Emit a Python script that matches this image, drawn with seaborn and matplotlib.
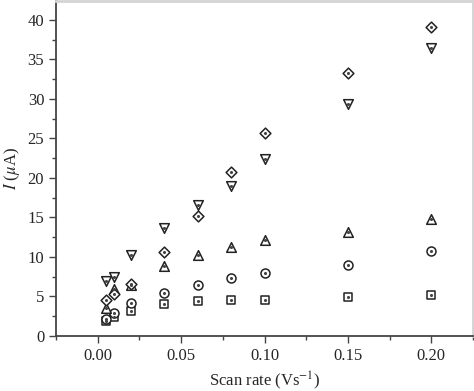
import numpy as np
import pandas as pd
import matplotlib
matplotlib.use("Agg")
import matplotlib.pyplot as plt
from matplotlib.ticker import MultipleLocator
import seaborn as sns

scan_rate = [0.005, 0.01, 0.02, 0.04, 0.06, 0.08, 0.10, 0.15, 0.20]

square = [1.9, 2.45, 3.2, 4.05, 4.47, 4.5, 4.6, 4.98, 5.15]
circle = [2.15, 2.95, 4.2, 5.4, 6.45, 7.34, 8.0, 9.0, 10.76]
triangle_up = [3.6, 5.9, 6.5, 8.86, 10.3, 11.3, 12.2, 13.2, 14.8]
diamond = [4.56, 5.27, 6.6, 10.67, 15.2, 20.7, 25.65, 33.3, 39.15]
triangle_down = [6.96, 7.5, 10.2, 13.7, 16.6, 19.0, 22.45, 29.4, 36.4]

series = {"s": square, "o": circle, "^": triangle_up, "D": diamond, "v": triangle_down}
rows = []
for m, vals in series.items():
    for x, y in zip(scan_rate, vals):
        rows.append({"rate": x, "current": y, "marker": m})
df = pd.DataFrame(rows)

sns.set_style("white")
plt.rcParams["font.family"] = ["Liberation Serif", "DejaVu Serif"]
plt.rcParams["mathtext.fontset"] = "stix"

fig = plt.figure(figsize=(4.74, 3.91), dpi=100)
ax = fig.add_axes([56 / 474, 55 / 391, 417 / 474, 335 / 391])

sizes = {"s": 30, "o": 42, "^": 48, "D": 30, "v": 48}
for m in series:
    sub = df[df["marker"] == m]
    sns.scatterplot(data=sub, x="rate", y="current", marker=m, s=sizes[m],
                    facecolor="white", edgecolor="#222222", linewidth=1.1, ax=ax,
                    zorder=3)
    ax.scatter(sub["rate"], sub["current"], s=1.5, color="#444444", zorder=4)

ax.set_xlim(-0.025, 0.225)
ax.set_ylim(0, 42.4)
ax.xaxis.set_major_locator(MultipleLocator(0.05))
ax.xaxis.set_minor_locator(MultipleLocator(0.025))
ax.yaxis.set_major_locator(MultipleLocator(5))
ax.yaxis.set_minor_locator(MultipleLocator(2.5))
ax.set_xticks([0.0, 0.05, 0.10, 0.15, 0.20])
ax.set_xticklabels(["0.00", "0.05", "0.10", "0.15", "0.20"])

ax.tick_params(axis="both", which="major", direction="out", length=5, width=1,
               color="#444444", labelsize=12, bottom=True, left=True)
ax.tick_params(axis="both", which="minor", direction="out", length=3, width=1,
               color="#444444", bottom=True, left=True)

for side in ["left", "bottom"]:
    ax.spines[side].set_color("#444444")
    ax.spines[side].set_linewidth(1.3)
for side in ["top", "right"]:
    ax.spines[side].set_color("#d4d4d4")
    ax.spines[side].set_linewidth(2)

ax.set_xlabel("Scan rate (Vs$^{-1}$)", fontsize=12, labelpad=4)
ax.set_ylabel("$I$ ($\\mu$A)", fontsize=12, labelpad=4)

fig.savefig("out.png", dpi=100)
